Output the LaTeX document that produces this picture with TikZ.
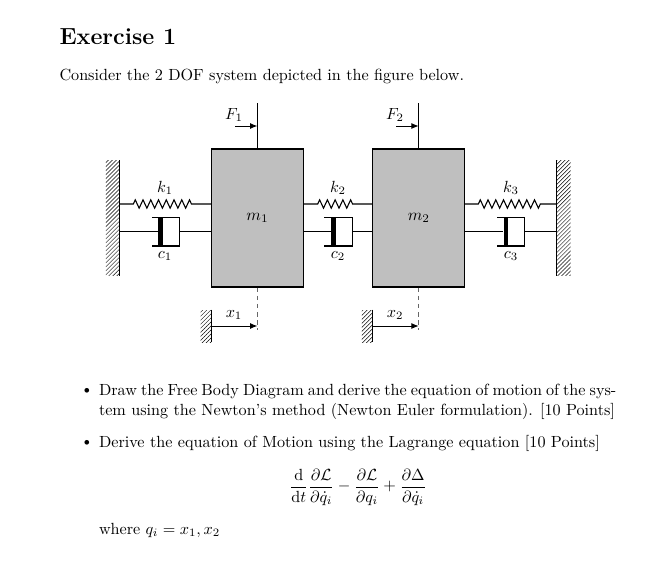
\documentclass[tikz,border=0pt]{standalone}
\usepackage{amsmath}
\usetikzlibrary{patterns.meta,decorations.pathmorphing,arrows.meta}
\tikzset{
  txt/.style={anchor=base west,inner sep=0pt,outer sep=0pt,scale=0.97,transform shape},
  lbl/.style={inner sep=0pt,outer sep=0pt,scale=0.97,transform shape},
  mass/.style={draw=black,fill=black!25,line width=0.7pt,inner sep=0pt,minimum width=55.3pt,minimum height=82.8pt},
  wall/.style={pattern={Lines[angle=45,distance=1.7pt,line width=0.28pt]},inner sep=0pt},
  wallL/.style={wall,minimum width=8.1pt,minimum height=69pt},
  gnd/.style={wall,minimum width=6.4pt,minimum height=19.2pt},
  link/.style={line width=0.7pt},
  spring/.style={line width=0.65pt,decorate,decoration={zigzag,amplitude=2.5pt,segment length=4.65pt,pre length=8.3pt,post length=10pt}},
  pot/.style={inner sep=0pt,minimum width=16.2pt,minimum height=16.8pt},
  potline/.style={line width=0.7pt},
  piston/.style={fill=black,inner sep=0pt,minimum width=2.9pt,minimum height=16.8pt},
  force/.style={line width=0.6pt,-{Latex[length=4.5pt,width=3.6pt]}},
  stem/.style={line width=0.5pt},
  dashline/.style={line width=0.4pt,dash pattern=on 2.7pt off 2.2pt,black!60},
}
\begin{document}
\begin{tikzpicture}[x=0.6pt,y=-0.6pt]
\useasboundingbox[fill=white] (0,0) rectangle (669,581);
% text
\node[txt,font=\Large\bfseries] (title) at (59.5,45) {Exercise 1};
\node[txt] (intro) at (59.5,80) {Consider the 2 DOF system depicted in the figure below.};
\node[lbl] (b1) at (87,391) {\textbullet};
\node[txt] (l1) at (99,395) {\spaceskip=2.5pt Draw the Free Body Diagram and derive the equation of motion of the sys-};
\node[txt] (l2) at (99,415) {tem using the Newton's method (Newton Euler formulation). [10 Points]};
\node[lbl] (b2) at (87,443) {\textbullet};
\node[txt] (l3) at (99,447) {Derive the equation of Motion using the Lagrange equation [10 Points]};
\node[lbl] (eq) at (358,487) {$\dfrac{\mathrm{d}}{\mathrm{d}t}\dfrac{\partial\mathcal{L}}{\partial\dot q_i}-\dfrac{\partial\mathcal{L}}{\partial q_i}+\dfrac{\partial\Delta}{\partial\dot q_i}$};
\node[txt] (w) at (99,534) {where $q_i=x_1,x_2$};
% masses
\node[mass] (m1) at (257.5,218) {$m_1$};
\node[mass] (m2) at (418.8,218) {$m_2$};
% walls
\node[wallL,anchor=east] (wl) at (119.5,218) {};
\node[wallL,anchor=west] (wr) at (556.7,218) {};
\draw[line width=0.5pt] (wl.north east) -- (wl.south east);
\draw[line width=0.5pt] (wr.north west) -- (wr.south west);
% springs
\coordinate (wls) at (119.5,204); \coordinate (m1ls) at (211.7,204);
\coordinate (m1rs) at (303.7,204); \coordinate (m2ls) at (372.8,204);
\coordinate (m2rs) at (465,204); \coordinate (wrs) at (556.7,204);
\draw[spring] (wls) -- (m1ls);
\draw[spring,decoration={pre length=8.4pt,post length=10pt}] (m1rs) -- (m2ls);
\draw[spring,decoration={pre length=8pt,post length=9pt}] (m2rs) -- (wrs);
\node[lbl] (k1) at (165,188) {$k_1$};
\node[lbl] (k2) at (338,188) {$k_2$};
\node[lbl] (k3) at (511,188) {$k_3$};
% dampers
\coordinate (wld) at (119.5,231.7); \coordinate (m1ld) at (211.7,231.7);
\coordinate (m1rd) at (303.7,231.7); \coordinate (m2ld) at (372.8,231.7);
\coordinate (m2rd) at (465,231.7); \coordinate (wrd) at (556.7,231.7);
\node[pot] (p1) at (165.8,231.7) {};
\node[pot] (p2) at (338.3,231.7) {};
\node[pot] (p3) at (511,231.7) {};
\node[piston] (s1) at (160.8,231.7) {};
\node[piston] (s2) at (333.5,231.7) {};
\node[piston] (s3) at (506,231.7) {};
\draw[potline] (p1.north west) -- (p1.north east) -- (p1.south east) -- (p1.south west);
\draw[potline] (p2.north west) -- (p2.north east) -- (p2.south east) -- (p2.south west);
\draw[potline] (p3.north west) -- (p3.north east) -- (p3.south east) -- (p3.south west);
\draw[link] (wld) -- (s1);
\draw[link] (p1.east) -- (m1ld);
\draw[link] (m1rd) -- (s2);
\draw[link] (p2.east) -- (m2ld);
\draw[link] (m2rd) -- (s3);
\draw[link] (p3.east) -- (wrd);
\node[lbl] (c1) at (165,256) {$c_1$};
\node[lbl] (c2) at (338,256) {$c_2$};
\node[lbl] (c3) at (511,256) {$c_3$};
% forces
\coordinate (t1) at (257.5,103); \coordinate (t2) at (418.8,103);
\draw[stem] (t1) -- (m1.north);
\draw[stem] (t2) -- (m2.north);
\coordinate (f1s) at (235,126); \coordinate (f1e) at (257.5,126);
\coordinate (f2s) at (396,126); \coordinate (f2e) at (418.8,126);
\draw[force] (f1s) -- (f1e);
\draw[force] (f2s) -- (f2e);
\node[lbl] (F1) at (234,115) {$F_1$};
\node[lbl] (F2) at (395,115) {$F_2$};
% displacement
\coordinate (b1e) at (257.5,330); \coordinate (b2e) at (418.8,330);
\draw[dashline] (m1.south) -- (b1e);
\draw[dashline] (m2.south) -- (b2e);
\node[gnd,anchor=east] (g1) at (211.7,326) {};
\node[gnd,anchor=east] (g2) at (372.8,326) {};
\draw[line width=0.5pt] (g1.north east) -- (g1.south east);
\draw[line width=0.5pt] (g2.north east) -- (g2.south east);
\coordinate (x1e) at (257.5,326); \coordinate (x2e) at (418.8,326);
\draw[force] (g1.east) -- (x1e);
\draw[force] (g2.east) -- (x2e);
\node[lbl] (x1) at (234,315) {$x_1$};
\node[lbl] (x2) at (395,315) {$x_2$};
\end{tikzpicture}
\end{document}
